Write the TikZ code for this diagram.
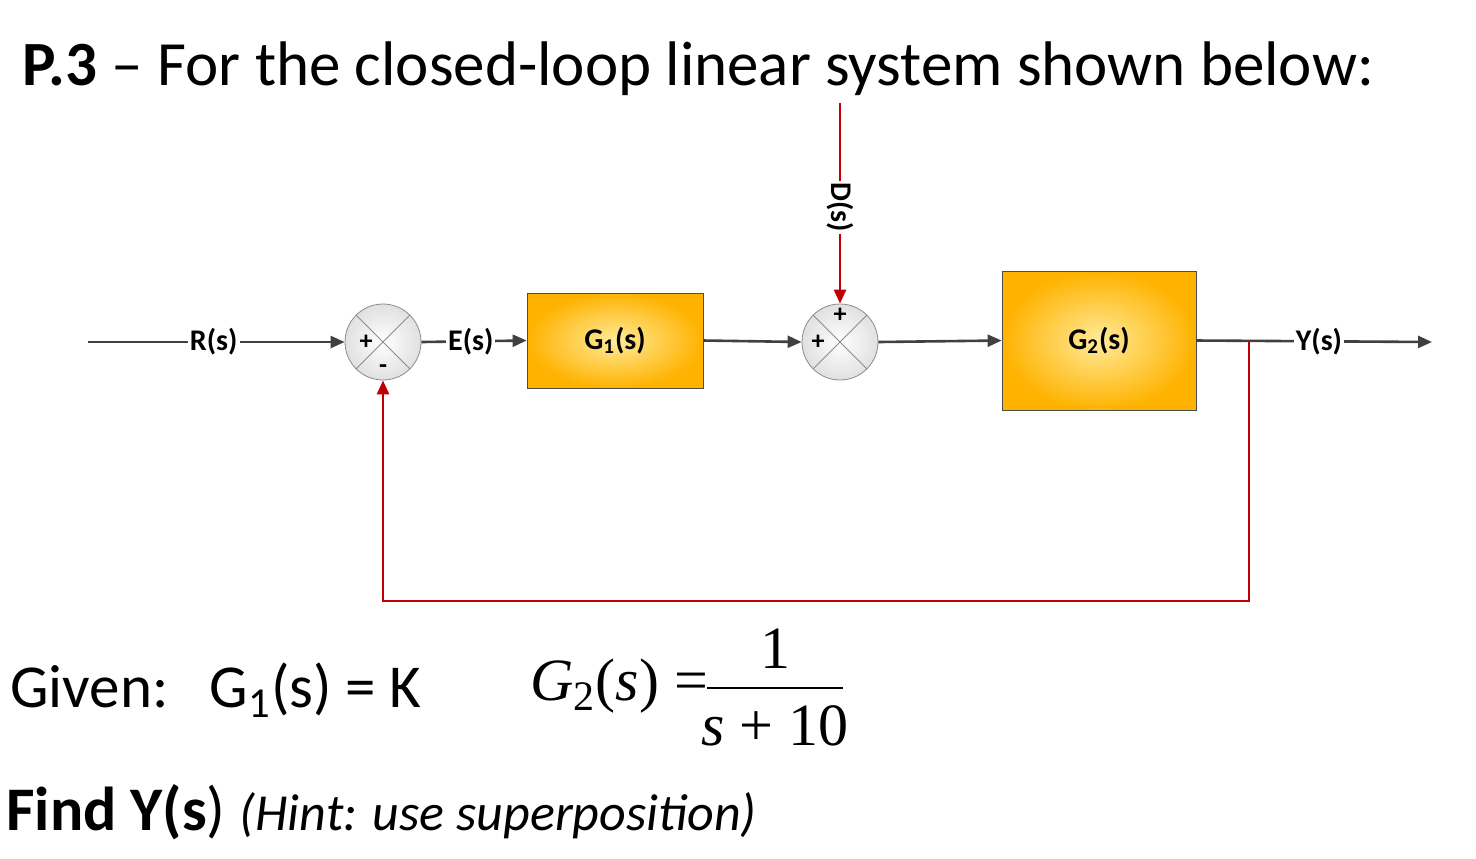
\documentclass[tikz,border=0pt]{standalone}
\usepackage{fontspec}
\setmainfont{Carlito}
\newfontfamily\tms{Liberation Serif}
\usetikzlibrary{arrows.meta}
\begin{document}
\begin{tikzpicture}[x=0.5pt,y=-0.5pt,
  blk/.style={draw=black!70,inner sep=0pt,inner color=yellow!60!orange!40!white,outer color=orange!60!yellow,shading=radial},
  sumj/.style={circle,draw=black!45,minimum size=38pt,inner sep=0pt,inner color=white,outer color=black!12},
  wire/.style={draw=black!75,line width=1.3pt},
  fb/.style={draw=red!75!black,line width=1.3pt},
  arr/.style={-{Triangle[length=7pt,width=6pt]}},
  lbl/.style={fill=white,inner sep=1pt,font=\bfseries\fontsize{15}{17}\selectfont},
  eqf/.style={font=\tms\fontsize{30}{34}\selectfont,inner sep=0pt}]
\useasboundingbox (0,0) rectangle (1476,858);
\node[anchor=base west,font=\fontsize{31.5}{36}\selectfont,inner sep=0pt] (title) at (22,85) {\textbf{P.3} -- For the closed-loop linear system shown below:};
\node[sumj] (s1) at (383,342) {};
\node[sumj] (s2) at (840,342) {};
\foreach \s in {s1,s2}{\draw[black!45] (\s.45)--(\s.225) (\s.135)--(\s.-45);}
\node[font=\bfseries\fontsize{13}{14}\selectfont] at (366,342) {+};
\node[font=\bfseries\fontsize{13}{14}\selectfont] at (383,369) {-};
\node[font=\bfseries\fontsize{13}{14}\selectfont] at (818,342) {+};
\node[font=\bfseries\fontsize{13}{14}\selectfont] at (840,315) {+};
\node[blk,minimum width=88pt,minimum height=47.5pt] (g1) at (615,340.5) {\bfseries\fontsize{15}{17}\selectfont G\textsubscript{1}(s)};
\node[blk,minimum width=97pt,minimum height=69.5pt] (g2) at (1099,340.5) {\bfseries\fontsize{15}{17}\selectfont G\textsubscript{2}(s)};
\coordinate (in) at (88,342);
\coordinate (out) at (1432,342);
\coordinate (tap) at (1249,342);
\coordinate (dtop) at (840,103);
\path[wire,arr] (in) -- node[lbl,pos=0.49] (R) {R(s)} (s1.west);
\path[wire,arr] (s1.east) -- node[lbl,pos=0.47] (E) {E(s)} (g1.west);
\path[wire,arr] (g1.east) -- (s2.west);
\path[wire,arr] (s2.east) -- (g2.west);
\path[wire,arr] (g2.east) -- node[lbl,pos=0.52] (Y) {Y(s)} (out);
\path[fb,arr] (dtop) -- node[lbl,pos=0.52,rotate=-90] (D) {D(s)} (s2.north);
\path[fb,arr] (tap) |- (383,601) -- (s1.south);
\node[anchor=base west,font=\fontsize{30.5}{34}\selectfont,inner sep=0pt] (given) at (10,707) {Given:\ \ \ G\textsubscript{1}(s) = K};
\node[eqf,anchor=base west] (g2eq) at (530,700) {\textit{G}\textsubscript{2}(\textit{s}) =};
\draw[line width=1pt] (707,688) -- (843,688);
\node[eqf,anchor=base] (num) at (775,668) {1};
\node[eqf,anchor=base] (den) at (775,745) {\textit{s} + 10};
\node[anchor=base west,font=\fontsize{31}{36}\selectfont,inner sep=0pt] (find) at (6,830) {\textbf{Find Y(s}) \textit{\fontsize{26}{30}\selectfont(Hint: use superposition)}};
\end{tikzpicture}
\end{document}
